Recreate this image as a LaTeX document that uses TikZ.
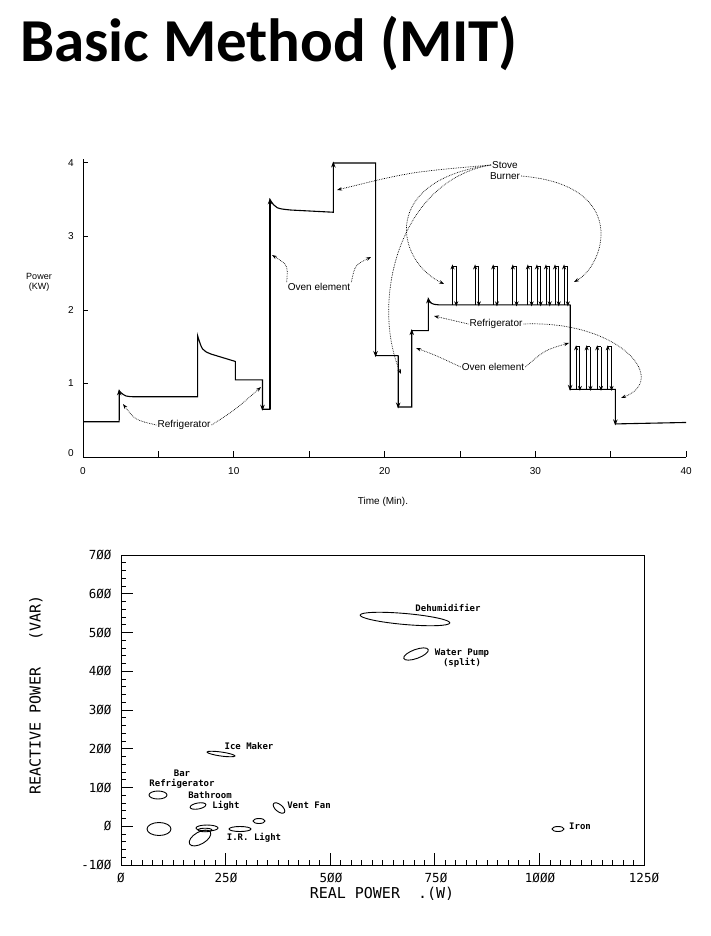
\documentclass[tikz,border=0pt]{standalone}
\usepackage{fontspec}
\setmainfont{Liberation Sans}
\newfontfamily\titlef{Carlito}
\newfontfamily\monof{DejaVu Sans Mono}
\usetikzlibrary{arrows.meta}
\begin{document}
\begin{tikzpicture}[x=1pt,y=-1pt,
  trace/.style={line width=1.1pt},
  arr/.style={line width=1.1pt,-{Stealth[length=6pt,width=4.5pt]}},
  spk/.style={line width=0.8pt,-{Stealth[length=5pt,width=4pt]}},
  ann/.style={densely dotted,line width=0.7pt,-{Stealth[length=5pt,width=3.5pt]}},
  lab/.style={font=\fontsize{10}{11}\selectfont,inner sep=1pt},
  mono/.style={font=\monof\fontsize{12.5}{14}\selectfont,inner sep=1pt},
  atitle/.style={font=\monof\fontsize{15}{16}\selectfont,inner sep=1pt},
  plab/.style={font=\monof\bfseries\fontsize{9}{10.5}\selectfont,inner sep=1pt},
  ell/.style={line width=0.9pt}]
\useasboundingbox (0,0) rectangle (710,936);
\fill[white] (0,0) rectangle (710,936);
\node[anchor=west,inner sep=0pt,font=\titlef\bfseries\fontsize{61}{66}\selectfont] (title) at (20,43) {Basic Method (MIT)};

% ---------- top chart ----------
\begin{scope}[shift={(83,457)},x=15.08pt,y=73.5pt]
\draw[line width=1pt] (0,4.05) -- (0,0) -- (40,0);
\foreach \t in {5,10,...,40} \draw[line width=1pt] (\t,0) -- (\t,0.08);
\foreach \k in {1,2,3,4} \draw[line width=1pt] (0,\k) -- (0.3,\k);
\node[lab] (y0) at (-0.8,0.05) {0};
\foreach \k in {1,2,3,4} \node[lab] (y\k) at (-0.8,\k) {\k};
\foreach \t in {0,10,20,30,40} \node[lab,anchor=north] (x\t) at (\t,-0.12) {\t};
\draw[trace] (0,0.48) -- (2.4,0.48) -- (2.4,0.9) .. controls (2.8,0.82) .. (3.6,0.82) -- (7.6,0.82)
 -- (7.6,1.65) .. controls (7.9,1.45) .. (8.5,1.4) -- (10.1,1.3) -- (10.1,1.05) -- (11.9,1.05)
 -- (11.9,0.65) -- (12.4,0.65) -- (12.4,3.5) .. controls (12.8,3.38) .. (13.8,3.36) -- (16.6,3.33)
 -- (16.6,4.0) -- (19.4,4.0) -- (19.4,1.38) -- (20.9,1.38) -- (20.9,0.68) -- (21.8,0.68)
 -- (21.8,1.72) -- (22.9,1.72) -- (22.9,2.15) .. controls (23.1,2.08) .. (23.6,2.07) -- (32.3,2.07)
 -- (32.3,0.92) -- (35.3,0.92) -- (35.3,0.45) -- (40,0.47);
\draw[arr] (2.4,0.5) -- (2.4,0.92);
\draw[arr] (11.9,1.05) -- (11.9,0.63);
\draw[arr] (12.4,0.65) -- (12.4,3.52);
\draw[arr] (16.6,3.33) -- (16.6,4.02);
\draw[arr] (19.4,4.0) -- (19.4,1.36);
\draw[arr] (20.9,1.38) -- (20.9,0.66);
\draw[arr] (21.8,0.68) -- (21.8,1.74);
\draw[arr] (22.9,1.72) -- (22.9,2.17);
\draw[arr] (32.3,2.07) -- (32.3,0.9);
\draw[arr] (35.3,0.92) -- (35.3,0.43);
\foreach \t in {24.5,26.0,27.2,28.5,29.5,30.1,30.7,31.3,31.9}{
  \draw[spk] (\t,2.07) -- (\t,2.62);
  \draw[line width=0.8pt] (\t,2.6) -- (\t+0.25,2.6);
  \draw[spk] (\t+0.25,2.6) -- (\t+0.25,2.05);}
\foreach \t in {32.7,33.4,34.1,34.8}{
  \draw[spk] (\t,0.92) -- (\t,1.52);
  \draw[line width=0.8pt] (\t,1.5) -- (\t+0.25,1.5);
  \draw[spk] (\t+0.25,1.5) -- (\t+0.25,0.9);}
\end{scope}
\node[lab,align=center,font=\fontsize{9}{10}\selectfont] (pw) at (39,282) {Power\\(KW)};
\node[lab] (tm) at (383,502) {Time (Min).};
\node[lab] (rf1) at (184,425) {Refrigerator};
\node[lab] (ov1) at (319,287) {Oven element};
\node[lab] (st) at (505,165) {Stove};
\node[lab] (bu) at (505,176) {Burner};
\node[lab] (rf2) at (496,324) {Refrigerator};
\node[lab] (ov2) at (493,367) {Oven element};
\coordinate (a1) at (123,404);
\coordinate (a2) at (261,387);
\coordinate (a3) at (272,255);
\coordinate (a4) at (371,257);
\coordinate (a5) at (337,190);
\coordinate (a6) at (401,374);
\coordinate (a7) at (444,284);
\coordinate (a8) at (574,282);
\coordinate (a9) at (434,316);
\coordinate (a10) at (621,398);
\coordinate (a11) at (416,348);
\coordinate (a12) at (569,343);
\draw[ann] (rf1.west) .. controls (135,420) .. (a1);
\draw[ann] (rf1.east) .. controls (235,410) .. (a2);
\draw[ann] (ov1.north west) .. controls (288,265) .. (a3);
\draw[ann] (ov1.north east) .. controls (355,265) .. (a4);
\draw[ann] (st.west) .. controls (410,172) .. (a5);
\draw[ann] (st.west) .. controls (400,180) and (370,300) .. (a6);
\draw[ann] (st.west) .. controls (380,180) and (395,260) .. (a7);
\draw[ann] (bu.east) .. controls (630,185) and (605,265) .. (a8);
\draw[ann] (rf2.west) -- (a9);
\draw[ann] (rf2.east) .. controls (620,320) and (670,380) .. (a10);
\draw[ann] (ov2.west) .. controls (435,355) .. (a11);
\draw[ann] (ov2.east) .. controls (545,350) .. (a12);

% ---------- bottom chart ----------
\draw[line width=1pt] (121,555) rectangle (644,865);
\begin{scope}[shift={(121,865)},x=0.4184pt,y=0.3875pt]
\foreach \v in {20,40,...,780} \draw[line width=0.7pt] (0,\v) -- (12,\v);
\foreach \v in {0,100,...,800} \draw[line width=0.9pt] (0,\v) -- (28,\v);
\foreach \w in {25,50,...,1225} \draw[line width=0.7pt] (\w,0) -- (\w,14);
\foreach \w in {250,500,750,1000} \draw[line width=0.9pt] (\w,0) -- (\w,30);
\foreach \v/\s in {700/7ØØ,600/6ØØ,500/5ØØ,400/4ØØ,300/3ØØ,200/2ØØ,100/1ØØ,0/Ø,-100/-1ØØ}
  \node[mono,anchor=east] (yl\v) at (-20,\v+100) {\s};
\end{scope}
\node[mono] (xl0) at (121,878) {Ø};
\node[mono] (xl250) at (226,878) {25Ø};
\node[mono] (xl500) at (331,878) {5ØØ};
\node[mono] (xl750) at (436,878) {75Ø};
\node[mono] (xl1000) at (540,878) {1ØØØ};
\node[mono] (xl1250) at (644,878) {125Ø};
\node[atitle] (xt) at (382,894) {REAL POWER\ \ .(W)};
\node[atitle,rotate=90] (yt) at (36,695) {REACTIVE POWER\ \ \ (VAR)};
\draw[ell,rotate around={-5:(405,619)}] (405,619) ellipse [x radius=45pt,y radius=5.5pt];
\draw[ell,rotate around={20:(416,654)}] (416,654) ellipse [x radius=13pt,y radius=4.5pt];
\draw[ell,rotate around={-8:(221,754)}] (221,754) ellipse [x radius=14pt,y radius=2pt];
\draw[ell] (158,795) ellipse [x radius=9pt,y radius=4pt];
\draw[ell,rotate around={10:(198,806)}] (198,806) ellipse [x radius=8pt,y radius=3pt];
\draw[ell,rotate around={-40:(279,808)}] (279,808) ellipse [x radius=7pt,y radius=3.5pt];
\draw[ell] (259,821) ellipse [x radius=6pt,y radius=2.5pt];
\draw[ell] (159,829) ellipse [x radius=12pt,y radius=6.5pt];
\draw[ell] (207,828) ellipse [x radius=11pt,y radius=3pt];
\draw[ell] (205,830) ellipse [x radius=7pt,y radius=1.8pt];
\draw[ell] (240,829) ellipse [x radius=11pt,y radius=2.5pt];
\draw[ell,rotate around={30:(200,838)}] (200,838) ellipse [x radius=12pt,y radius=6pt];
\draw[ell] (558,829) ellipse [x radius=6pt,y radius=2.5pt];
\node[plab] (dh) at (448,608) {Dehumidifier};
\node[plab,align=center] (wp) at (462,658) {Water Pump\\(split)};
\node[plab] (im) at (249,746) {Ice Maker};
\node[plab,align=center] (br) at (182,779) {Bar\\Refrigerator};
\node[plab] (bt) at (210,795) {Bathroom};
\node[plab] (li) at (226,806) {Light};
\node[plab] (vf) at (309,805) {Vent Fan};
\node[plab] (ir) at (254,838) {I.R. Light};
\node[plab] (iron) at (580,826) {Iron};
\end{tikzpicture}
\end{document}
